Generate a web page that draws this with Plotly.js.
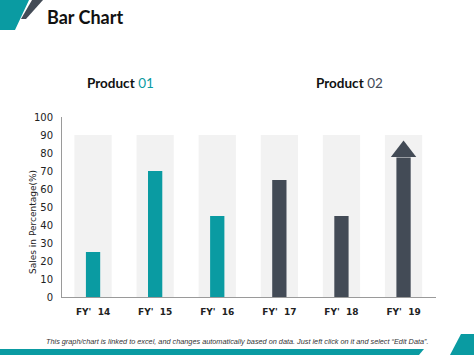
<!DOCTYPE html>
<html><head><meta charset="utf-8">
<script src="https://cdn.plot.ly/plotly-3.0.1.min.js"></script>
<style>html,body{margin:0;padding:0;background:#fff;}#chart{width:474px;height:355px;}</style>
</head><body><div id="chart"></div>
<script>
// ---- data ----
const categories = ["FY'  14", "FY'  15", "FY'  16", "FY'  17", "FY'  18", "FY'  19"];
const salesValues = [25, 70, 45, 65, 45, 87];
const backgroundValues = [90, 90, 90, 90, 90, 90];
const productGroups = ["Product 01", "Product 02"];
const yTicks = [0, 10, 20, 30, 40, 50, 60, 70, 80, 90, 100];

// ---- styles ----
const TEAL = '#0a9ba2';
const SLATE = '#434b56';
const colors = salesValues.map((v, i) => i < 3 ? TEAL : SLATE);
const W = 474, H = 355, L = 62, R = 38, T = 117, B = 58;
const pw = W - L - R, ph = H - T - B;
const px = x => (x - L) / pw;
const py = y => (H - B - y) / ph;
function poly(pts) {
  return 'M' + pts.map(p => px(p[0]).toFixed(4) + ',' + py(p[1]).toFixed(4)).join('L') + 'Z';
}

// last bar drawn as an arrow: shaft bar + triangular head
const headLen = 9.5; // data units of arrow head
const lastIdx = salesValues.length - 1;
const shaftValues = salesValues.map((v, i) => i === lastIdx ? v - headLen : v);

const traces = [
  {type: 'bar', x: categories, y: backgroundValues, width: 0.6, marker: {color: '#f2f2f2'}, hoverinfo: 'skip'},
  {type: 'bar', x: categories, y: shaftValues, width: 0.23, marker: {color: colors}, hoverinfo: 'skip'},
  {type: 'scatter', mode: 'markers', x: [categories[lastIdx]], y: [salesValues[lastIdx] - headLen * 0.65],
   marker: {symbol: 'triangle-up', size: 22, color: SLATE}, hoverinfo: 'skip', cliponaxis: false}
];

const layout = {
  width: W, height: H,
  margin: {l: L, r: R, t: T, b: B, pad: 0},
  paper_bgcolor: '#fff', plot_bgcolor: '#fff',
  showlegend: false, barmode: 'overlay',
  font: {family: 'DejaVu Sans, sans-serif', color: '#222'},
  xaxis: {
    type: 'category', showgrid: false, zeroline: false,
    showline: true, linecolor: '#9a9a9a', linewidth: 1,
    ticks: '', tickfont: {size: 9, color: '#222', family: 'DejaVu Sans, sans-serif', weight: 'bold'},
    ticklabelstandoff: 6
  },
  yaxis: {
    range: [0, 100], tickvals: yTicks, showgrid: false, zeroline: false,
    showline: true, linecolor: '#9a9a9a', linewidth: 1, ticks: '',
    tickfont: {size: 10, color: '#222'}, ticklabelstandoff: 6
  },
  shapes: [
    {type: 'path', xref: 'paper', yref: 'paper', path: poly([[0,0],[29,0],[15,30],[0,30]]), fillcolor: TEAL, line: {width: 0}},
    {type: 'path', xref: 'paper', yref: 'paper', path: poly([[32,0],[43,0],[26,19],[21,19]]), fillcolor: SLATE, line: {width: 0}},
    {type: 'path', xref: 'paper', yref: 'paper', path: poly([[0,349],[424,349],[419,355],[0,355]]), fillcolor: TEAL, line: {width: 0}},
    {type: 'path', xref: 'paper', yref: 'paper', path: poly([[461,334],[474,334],[474,355],[450,355]]), fillcolor: TEAL, line: {width: 0}}
  ],
  annotations: [
    {xref: 'paper', yref: 'paper', x: px(45), y: py(17), xanchor: 'left', yanchor: 'middle', showarrow: false,
     text: '<b>Bar Chart</b>', font: {size: 18, color: '#111', family: 'Lato, sans-serif'}},
    {xref: 'paper', yref: 'paper', x: px(120), y: py(83), xanchor: 'center', yanchor: 'middle', showarrow: false,
     text: '<b>' + productGroups[0].split(' ')[0] + '</b> <span style="color:' + TEAL + '">' + productGroups[0].split(' ')[1] + '</span>',
     font: {size: 13.5, color: '#111', family: 'Lato, sans-serif'}},
    {xref: 'paper', yref: 'paper', x: px(349), y: py(83), xanchor: 'center', yanchor: 'middle', showarrow: false,
     text: '<b>' + productGroups[1].split(' ')[0] + '</b> <span style="color:' + SLATE + '">' + productGroups[1].split(' ')[1] + '</span>',
     font: {size: 13.5, color: '#111', family: 'Lato, sans-serif'}},
    {xref: 'paper', yref: 'paper', x: px(33), y: py(222), xanchor: 'center', yanchor: 'middle', showarrow: false,
     textangle: -90, text: 'Sales in Percentage(%)', font: {size: 9, color: '#222'}},
    {xref: 'paper', yref: 'paper', x: px(430), y: py(341), xanchor: 'right', yanchor: 'middle', showarrow: false,
     text: '<i>This graph/chart is linked to excel, and changes automatically based on data. Just left click on it and select “Edit Data”.</i>',
     font: {size: 7.3, color: '#333', family: 'Liberation Sans, Arial, sans-serif'}}
  ]
};

Plotly.newPlot('chart', traces, layout, {displayModeBar: false, staticPlot: true});
</script>
</body></html>
